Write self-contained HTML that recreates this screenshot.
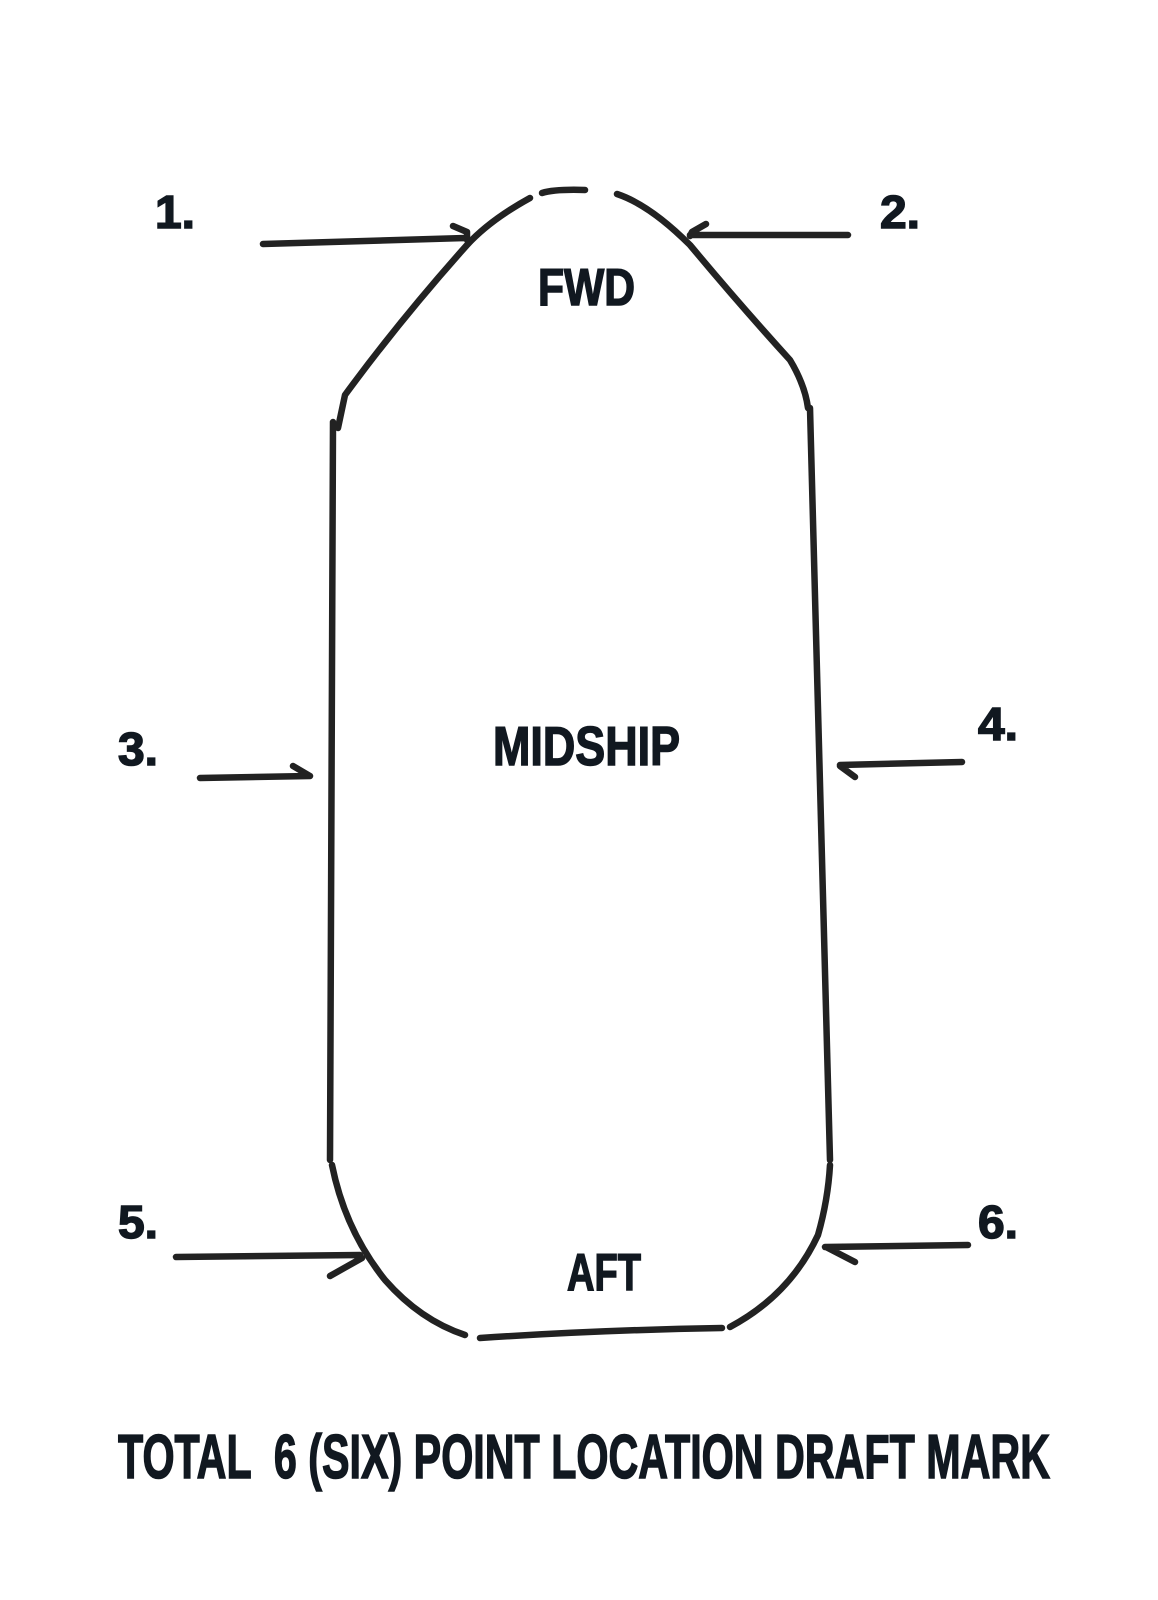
<!DOCTYPE html>
<html><head><meta charset="utf-8"><style>
html,body{margin:0;padding:0;background:#fff;}
svg{display:block;}
text{font-family:"Liberation Sans Narrow","Liberation Sans",sans-serif;font-weight:bold;fill:#111820;stroke:#111820;stroke-width:1.5;}
</style></head><body>
<svg width="1158" height="1600" viewBox="0 0 1158 1600" xmlns="http://www.w3.org/2000/svg">
<g fill="none" stroke="#222" stroke-width="6.5" stroke-linecap="round" stroke-linejoin="round">
<path d="M530,198 Q490,220 467,245 Q400,320 345,395 L338,428"/>
<path d="M542,193 Q555,189 585,190"/>
<path d="M617,194 Q650,205 690,245 Q740,305 790,360 Q805,385 808,408"/>
<path d="M333,422 Q332,700 330,1160"/>
<path d="M810,408 Q818,700 830,1160"/>
<path d="M332,1165 Q345,1230 385,1280 Q420,1320 465,1335"/>
<path d="M480,1338 Q600,1330 722,1328"/>
<path d="M730,1327 Q790,1295 818,1235 Q828,1200 830,1165"/>
<path d="M263,244 L465,238 M453,226 L467,232 L467,240"/>
<path d="M848,235 L690,235 M706,224 L692,232 L690,236"/>
<path d="M200,778 L310,776 M293,766 L310,776"/>
<path d="M962,762 L840,765 M855,777 L840,766"/>
<path d="M176,1257 L360,1255 M330,1276 L362,1258"/>
<path d="M968,1245 L825,1247 M855,1262 L826,1247"/>
</g>
<text x="155" y="228" font-size="46" textLength="40" lengthAdjust="spacingAndGlyphs">1.</text>
<text x="880" y="228" font-size="46" textLength="40" lengthAdjust="spacingAndGlyphs">2.</text>
<text x="118" y="765" font-size="46" textLength="40" lengthAdjust="spacingAndGlyphs">3.</text>
<text x="978" y="740" font-size="46" textLength="40" lengthAdjust="spacingAndGlyphs">4.</text>
<text x="118" y="1238" font-size="46" textLength="40" lengthAdjust="spacingAndGlyphs">5.</text>
<text x="978" y="1238" font-size="46" textLength="40" lengthAdjust="spacingAndGlyphs">6.</text>
<text x="538" y="305" font-size="52" textLength="97" lengthAdjust="spacingAndGlyphs">FWD</text>
<text x="493" y="765" font-size="55" textLength="187" lengthAdjust="spacingAndGlyphs">MIDSHIP</text>
<text x="567" y="1290" font-size="52" textLength="74" lengthAdjust="spacingAndGlyphs">AFT</text>
<text x="118" y="1478" font-size="62" textLength="932" lengthAdjust="spacingAndGlyphs" xml:space="preserve">TOTAL  6 (SIX) POINT LOCATION DRAFT MARK</text>
</svg>
</body></html>
